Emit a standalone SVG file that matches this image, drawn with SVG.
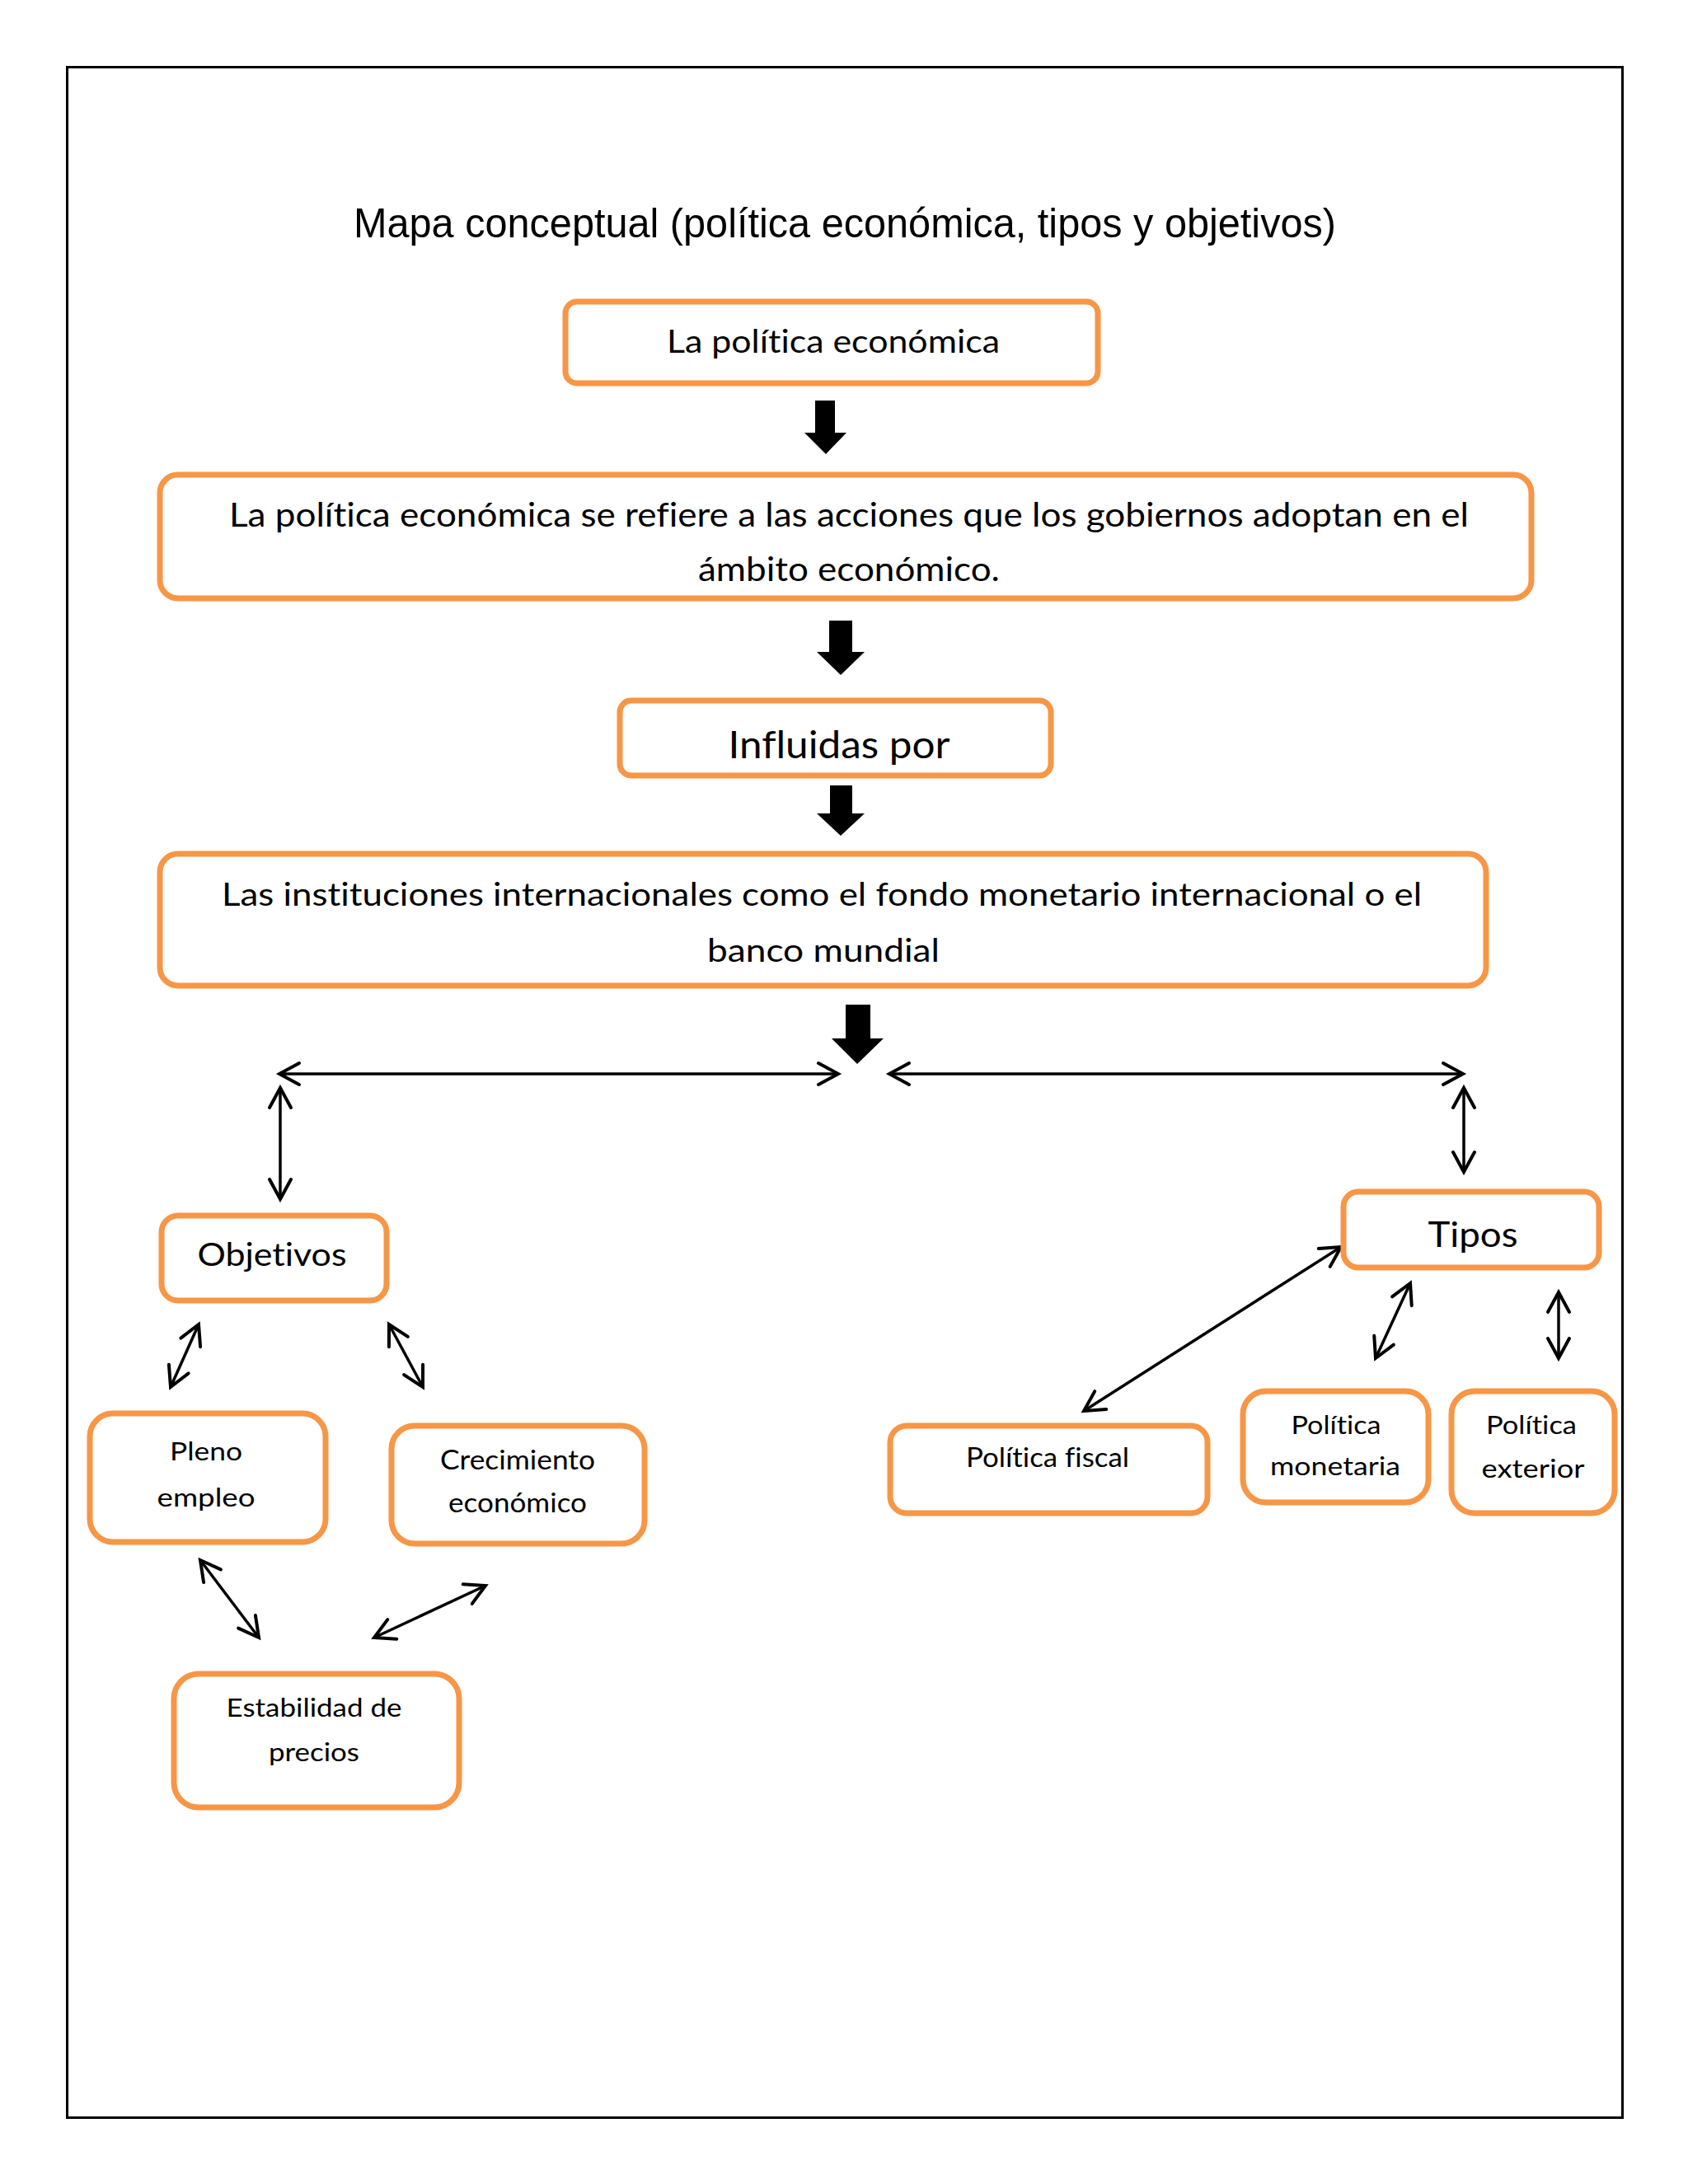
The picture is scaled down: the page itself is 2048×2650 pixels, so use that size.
<svg xmlns="http://www.w3.org/2000/svg" width="2048" height="2650" viewBox="0 0 2048 2650">
<style>
.box{fill:#fff;stroke:#F79646;stroke-width:7}
.t{font-family:Lato,"Open Sans","Liberation Sans",sans-serif;fill:#000;text-anchor:middle;font-variant-ligatures:none;font-feature-settings:"liga" 0}
.c{fill:none;stroke:#000;stroke-width:3.5;marker-start:url(#ah);marker-end:url(#ah)}
.big{fill:#000}
</style>
<defs>
<marker id="ah" markerUnits="userSpaceOnUse" markerWidth="40" markerHeight="40" viewBox="-30 -20 40 40" refX="0" refY="0" orient="auto-start-reverse">
<path d="M-24,-13 L0,0 L-24,13" fill="none" stroke="#000" stroke-width="4" stroke-linecap="round" stroke-linejoin="miter"/>
</marker>
</defs>
<rect width="2048" height="2650" fill="#fff"/>
<rect x="81.5" y="81.5" width="1887" height="2488" fill="none" stroke="#000" stroke-width="3"/>
<text x="1025" y="288" font-family="'Liberation Sans',sans-serif" font-size="50" text-anchor="middle" textLength="1192" lengthAdjust="spacingAndGlyphs">Mapa conceptual (política económica, tipos y objetivos)</text>

<g id="connectors">
<polygon class="big" points="989,486 1013,486 1013,525 1027,525 1002,551 976,525 989,525"/>
<polygon class="big" points="1006,753 1034,753 1034,791 1049,791 1020,819 991,791 1006,791"/>
<polygon class="big" points="1007,953 1034,953 1034,987 1049,987 1020,1014 991,987 1007,987"/>
<polygon class="big" points="1026,1219 1056,1219 1056,1260 1072,1260 1040,1291 1009,1260 1026,1260"/>
<line class="c" x1="339" y1="1303" x2="1017" y2="1303"/>
<line class="c" x1="1079" y1="1303" x2="1775" y2="1303"/>
<line class="c" x1="340" y1="1320" x2="340" y2="1455"/>
<line class="c" x1="1776" y1="1320" x2="1776" y2="1422"/>
<line class="c" x1="241" y1="1607" x2="207" y2="1683"/>
<line class="c" x1="472" y1="1607" x2="513" y2="1683"/>
<line class="c" x1="243" y1="1893" x2="314" y2="1987"/>
<line class="c" x1="589" y1="1924" x2="454" y2="1987"/>
<line class="c" x1="1627" y1="1513" x2="1315" y2="1712"/>
<line class="c" x1="1711" y1="1557" x2="1669" y2="1648"/>
<line class="c" x1="1891" y1="1568" x2="1891" y2="1648"/>
</g>

<g id="n-politica">
<rect class="box" x="686" y="366" width="646" height="99" rx="14"/>
<text class="t" x="1011" y="428" font-size="39" textLength="404" lengthAdjust="spacingAndGlyphs">La política económica</text>
</g>
<g id="n-definicion">
<rect class="box" x="194" y="576" width="1664" height="150" rx="22"/>
<text class="t" x="1030" y="639" font-size="40" textLength="1504" lengthAdjust="spacingAndGlyphs">La política económica se refiere a las acciones que los gobiernos adoptan en el</text>
<text class="t" x="1030" y="705" font-size="40" textLength="366" lengthAdjust="spacingAndGlyphs">ámbito económico.</text>
</g>
<g id="n-influidas">
<rect class="box" x="752" y="850" width="523" height="91" rx="14"/>
<text class="t" x="1018" y="920" font-size="46" textLength="269" lengthAdjust="spacingAndGlyphs">Influidas por</text>
</g>
<g id="n-instituciones">
<rect class="box" x="194" y="1036" width="1609" height="160" rx="22"/>
<text class="t" x="997" y="1099" font-size="38" textLength="1456" lengthAdjust="spacingAndGlyphs">Las instituciones internacionales como el fondo monetario internacional o el</text>
<text class="t" x="999" y="1167" font-size="38" textLength="282" lengthAdjust="spacingAndGlyphs">banco mundial</text>
</g>
<g id="n-objetivos">
<rect class="box" x="196" y="1475" width="273" height="103" rx="20"/>
<text class="t" x="330" y="1536" font-size="39" textLength="181" lengthAdjust="spacingAndGlyphs">Objetivos</text>
</g>
<g id="n-pleno">
<rect class="box" x="109" y="1715" width="286" height="156" rx="28"/>
<text class="t" x="250" y="1772" font-size="31" textLength="88" lengthAdjust="spacingAndGlyphs">Pleno</text>
<text class="t" x="250" y="1828" font-size="31" textLength="119" lengthAdjust="spacingAndGlyphs">empleo</text>
</g>
<g id="n-crecimiento">
<rect class="box" x="475" y="1730" width="307" height="143" rx="28"/>
<text class="t" x="628" y="1783" font-size="32" textLength="188" lengthAdjust="spacingAndGlyphs">Crecimiento</text>
<text class="t" x="628" y="1835" font-size="32" textLength="168" lengthAdjust="spacingAndGlyphs">económico</text>
</g>
<g id="n-estabilidad">
<rect class="box" x="211" y="2031" width="346" height="162" rx="30"/>
<text class="t" x="381" y="2083" font-size="30" textLength="213" lengthAdjust="spacingAndGlyphs">Estabilidad de</text>
<text class="t" x="381" y="2137" font-size="30" textLength="110" lengthAdjust="spacingAndGlyphs">precios</text>
</g>
<g id="n-tipos">
<rect class="box" x="1630" y="1446" width="310" height="92" rx="18"/>
<text class="t" x="1787" y="1513" font-size="43" textLength="109" lengthAdjust="spacingAndGlyphs">Tipos</text>
</g>
<g id="n-fiscal">
<rect class="box" x="1080" y="1730" width="385" height="106" rx="20"/>
<text class="t" x="1271" y="1780" font-size="32" textLength="198" lengthAdjust="spacingAndGlyphs">Política fiscal</text>
</g>
<g id="n-monetaria">
<rect class="box" x="1508" y="1688" width="225" height="135" rx="28"/>
<text class="t" x="1621" y="1740" font-size="31" textLength="109" lengthAdjust="spacingAndGlyphs">Política</text>
<text class="t" x="1620" y="1790" font-size="31" textLength="158" lengthAdjust="spacingAndGlyphs">monetaria</text>
</g>
<g id="n-exterior">
<rect class="box" x="1761" y="1688" width="198" height="148" rx="28"/>
<text class="t" x="1858" y="1740" font-size="31" textLength="110" lengthAdjust="spacingAndGlyphs">Política</text>
<text class="t" x="1860" y="1793" font-size="31" textLength="125" lengthAdjust="spacingAndGlyphs">exterior</text>
</g>
</svg>
